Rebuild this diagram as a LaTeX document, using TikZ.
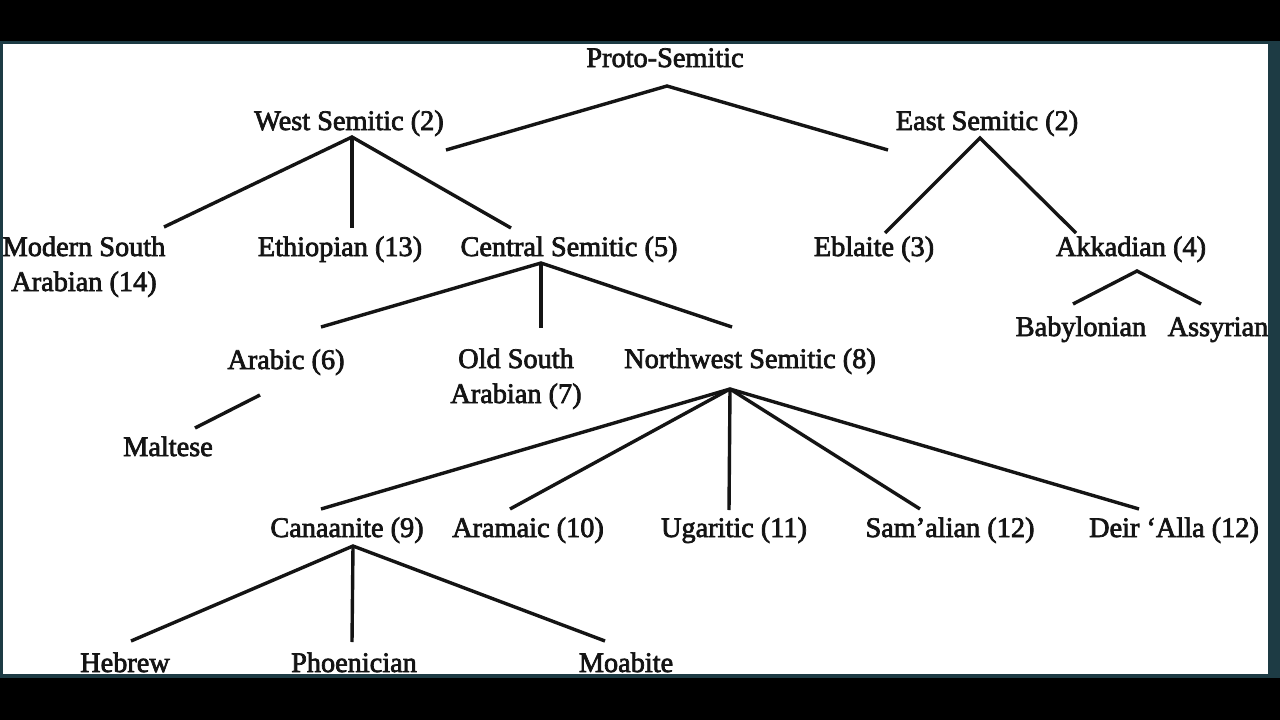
\documentclass[tikz,border=0pt]{standalone}
\usepackage{fontspec}
\newfontfamily\treefont{Liberation Serif}[FakeBold=2.5]
\definecolor{frame}{HTML}{1D3B44}
\definecolor{ink}{HTML}{141414}

\begin{document}
\begin{tikzpicture}[x=1pt, y=-1pt, line width=3.2pt,
	lang/.style={anchor=base, inner sep=0pt, text=ink, align=center,
		font=\treefont\fontsize{28.3}{35}\selectfont},
	branch/.style={draw=ink, line width=3.4pt}]

	% screen frame
	\fill[black] (0,0) rectangle (1280,720);
	\fill[frame] (0,41) rectangle (1280,678);
	\fill[white] (3,44) rectangle (1268,674);

	\begin{scope}
	\clip (3,44) rectangle (1268,674);

	% labels (two-line nodes sit on their last line)
	\node[lang] (proto) at (665,67)  {Proto-Semitic};
	\node[lang] (west)  at (349,130) {West Semitic (2)};
	\node[lang] (east)  at (987,130) {East Semitic (2)};

	\node[lang] (msa)   at (84,291)  {Modern South\\Arabian (14)};
	\node[lang] (eth)   at (340,256) {Ethiopian (13)};
	\node[lang] (cent)  at (569,256) {Central Semitic (5)};
	\node[lang] (ebla)  at (874,256) {Eblaite (3)};
	\node[lang] (akk)   at (1131,256) {Akkadian (4)};
	\node[lang] (baby)  at (1081,336) {Babylonian};
	\node[lang] (assy)  at (1218,336) {Assyrian};

	\node[lang] (arab)  at (286,369) {Arabic (6)};
	\node[lang] (osa)   at (516,403) {Old South\\Arabian (7)};
	\node[lang] (nws)   at (750,368) {Northwest Semitic (8)};
	\node[lang] (malt)  at (168,456) {Maltese};

	\node[lang] (cana)  at (347,537) {Canaanite (9)};
	\node[lang] (aram)  at (528,537) {Aramaic (10)};
	\node[lang] (ugar)  at (734,537) {Ugaritic (11)};
	\node[lang] (samal) at (950,537) {Sam’alian (12)};
	\node[lang] (deir)  at (1174,537) {Deir ‘Alla (12)};

	\node[lang] (hebr)  at (125,672) {Hebrew};
	\node[lang] (phoe)  at (354,672) {Phoenician};
	\node[lang] (moab)  at (626,672) {Moabite};

	% branch points
	\coordinate (proto-a) at (667,86);
	\coordinate (proto-l) at (446,150);
	\coordinate (proto-r) at (888,150);

	\coordinate (west-a) at (352,137);
	\coordinate (west-1) at (164,227);
	\coordinate (west-2) at (352,228);
	\coordinate (west-3) at (511,228);

	\coordinate (east-a) at (980,138);
	\coordinate (east-1) at (885,233);
	\coordinate (east-2) at (1076,233);

	\coordinate (cent-a) at (541,263);
	\coordinate (cent-1) at (321,327);
	\coordinate (cent-2) at (541,328);
	\coordinate (cent-3) at (732,327);

	\coordinate (akk-a) at (1137,271);
	\coordinate (akk-1) at (1073,304);
	\coordinate (akk-2) at (1201,304);

	\coordinate (arab-a) at (260,395);
	\coordinate (arab-1) at (195,428);

	\coordinate (nws-a) at (730,389);
	\coordinate (nws-1) at (321,509);
	\coordinate (nws-2) at (510,509);
	\coordinate (nws-3) at (729,510);
	\coordinate (nws-4) at (920,509);
	\coordinate (nws-5) at (1139,509);

	\coordinate (cana-a) at (353,546);
	\coordinate (cana-1) at (131,641);
	\coordinate (cana-2) at (352,642);
	\coordinate (cana-3) at (605,641);

	% branches
	\draw[branch] (proto-l) -- (proto-a) -- (proto-r);

	\draw[branch] (west-1) -- (west-a) -- (west-3);
	\draw[branch] (west-a) -- (west-2);

	\draw[branch] (east-1) -- (east-a) -- (east-2);

	\draw[branch] (cent-1) -- (cent-a) -- (cent-3);
	\draw[branch] (cent-a) -- (cent-2);

	\draw[branch] (akk-1) -- (akk-a) -- (akk-2);

	\draw[branch] (arab-a) -- (arab-1);

	\draw[branch] (nws-1) -- (nws-a) -- (nws-5);
	\draw[branch] (nws-a) -- (nws-2);
	\draw[branch] (nws-a) -- (nws-3);
	\draw[branch] (nws-a) -- (nws-4);

	\draw[branch] (cana-1) -- (cana-a) -- (cana-3);
	\draw[branch] (cana-a) -- (cana-2);
	\end{scope}

\end{tikzpicture}
\end{document}
